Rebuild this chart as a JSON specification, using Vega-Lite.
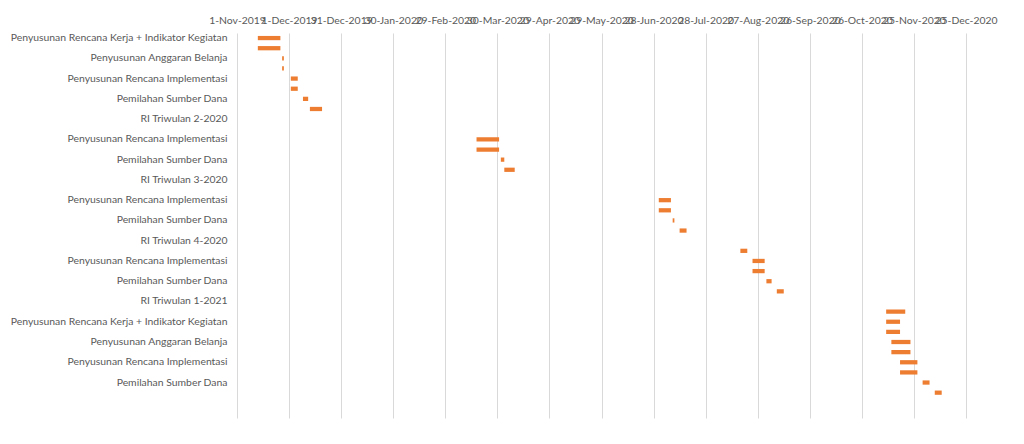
{
  "$schema": "https://vega.github.io/schema/vega-lite/v6.json",
  "autosize": {"type": "none"},
  "width": 729,
  "height": 385,
  "padding": {"left": 237, "top": 33, "right": 58, "bottom": 26},
  "background": "white",
  "config": {
    "view": {"stroke": null},
    "font": "Lato",
    "axis": {"labelFont": "Lato", "labelFontSize": 10.4, "labelColor": "#595959"}
  },
  "data": {
    "values": [
      {"key": "00 Penyusunan Rencana Kerja + Indikator Kegiatan", "start": "2019-11-13", "end": "2019-11-26"},
      {"key": "01 Penyusunan Rencana Kerja + Indikator Kegiatan", "start": "2019-11-13", "end": "2019-11-26"},
      {"key": "02 Penyusunan Anggaran Belanja", "start": "2019-11-27", "end": "2019-11-28"},
      {"key": "03 Penyusunan Anggaran Belanja", "start": "2019-11-27", "end": "2019-11-28"},
      {"key": "04 Penyusunan Rencana Implementasi", "start": "2019-12-02", "end": "2019-12-06"},
      {"key": "05 Penyusunan Rencana Implementasi", "start": "2019-12-02", "end": "2019-12-06"},
      {"key": "06 Pemilahan Sumber Dana", "start": "2019-12-09", "end": "2019-12-12"},
      {"key": "07 Pemilahan Sumber Dana", "start": "2019-12-13", "end": "2019-12-20"},
      {"key": "08 RI Triwulan 2-2020", "start": null, "end": null},
      {"key": "09 RI Triwulan 2-2020", "start": null, "end": null},
      {"key": "10 Penyusunan Rencana Implementasi", "start": "2020-03-18", "end": "2020-03-31"},
      {"key": "11 Penyusunan Rencana Implementasi", "start": "2020-03-18", "end": "2020-03-31"},
      {"key": "12 Pemilahan Sumber Dana", "start": "2020-04-01", "end": "2020-04-03"},
      {"key": "13 Pemilahan Sumber Dana", "start": "2020-04-03", "end": "2020-04-09"},
      {"key": "14 RI Triwulan 3-2020", "start": null, "end": null},
      {"key": "15 RI Triwulan 3-2020", "start": null, "end": null},
      {"key": "16 Penyusunan Rencana Implementasi", "start": "2020-07-01", "end": "2020-07-08"},
      {"key": "17 Penyusunan Rencana Implementasi", "start": "2020-07-01", "end": "2020-07-08"},
      {"key": "18 Pemilahan Sumber Dana", "start": "2020-07-09", "end": "2020-07-10"},
      {"key": "19 Pemilahan Sumber Dana", "start": "2020-07-13", "end": "2020-07-17"},
      {"key": "20 RI Triwulan 4-2020", "start": null, "end": null},
      {"key": "21 RI Triwulan 4-2020", "start": "2020-08-17", "end": "2020-08-21"},
      {"key": "22 Penyusunan Rencana Implementasi", "start": "2020-08-24", "end": "2020-08-31"},
      {"key": "23 Penyusunan Rencana Implementasi", "start": "2020-08-24", "end": "2020-08-31"},
      {"key": "24 Pemilahan Sumber Dana", "start": "2020-09-01", "end": "2020-09-04"},
      {"key": "25 Pemilahan Sumber Dana", "start": "2020-09-07", "end": "2020-09-11"},
      {"key": "26 RI Triwulan 1-2021", "start": null, "end": null},
      {"key": "27 RI Triwulan 1-2021", "start": "2020-11-09", "end": "2020-11-20"},
      {"key": "28 Penyusunan Rencana Kerja + Indikator Kegiatan", "start": "2020-11-09", "end": "2020-11-17"},
      {"key": "29 Penyusunan Rencana Kerja + Indikator Kegiatan", "start": "2020-11-09", "end": "2020-11-17"},
      {"key": "30 Penyusunan Anggaran Belanja", "start": "2020-11-12", "end": "2020-11-23"},
      {"key": "31 Penyusunan Anggaran Belanja", "start": "2020-11-12", "end": "2020-11-23"},
      {"key": "32 Penyusunan Rencana Implementasi", "start": "2020-11-17", "end": "2020-11-27"},
      {"key": "33 Penyusunan Rencana Implementasi", "start": "2020-11-17", "end": "2020-11-27"},
      {"key": "34 Pemilahan Sumber Dana", "start": "2020-11-30", "end": "2020-12-04"},
      {"key": "35 Pemilahan Sumber Dana", "start": "2020-12-07", "end": "2020-12-11"},
      {"key": "36 ", "start": null, "end": null},
      {"key": "37 ", "start": null, "end": null}
    ]
  },
  "encoding": {
    "y": {
      "field": "key",
      "type": "ordinal",
      "sort": "ascending",
      "scale": {"paddingInner": 0, "paddingOuter": 0},
      "axis": {
        "title": null,
        "domain": false,
        "ticks": false,
        "grid": false,
        "labelPadding": 10,
        "labelLimit": 400,
        "labelExpr": "toNumber(substring(datum.value,0,2)) % 2 == 0 ? substring(datum.value,3) : ''"
      }
    }
  },
  "layer": [
    {
      "mark": {"type": "text", "opacity": 0},
      "encoding": {"text": {"value": ""}}
    },
    {
      "mark": {"type": "bar", "color": "#ED7D31", "height": {"band": 0.42}},
      "encoding": {
        "x": {
          "field": "start",
          "type": "temporal",
          "scale": {
            "type": "utc",
            "domain": [
              {"year": 2019, "month": 11, "date": 1, "utc": true},
              {"year": 2020, "month": 12, "date": 25, "utc": true}
            ]
          },
          "axis": {
            "orient": "top",
            "title": null,
            "domain": false,
            "ticks": false,
            "grid": true,
            "gridColor": "#d9d9d9",
            "gridWidth": 1,
            "labelPadding": 8,
            "labelOverlap": false,
            "labelFlush": false,
            "labelBound": false,
            "format": "%-d-%b-%Y",
            "values": [
              {"year": 2019, "month": 11, "date": 1, "utc": true},
              {"year": 2019, "month": 12, "date": 1, "utc": true},
              {"year": 2019, "month": 12, "date": 31, "utc": true},
              {"year": 2020, "month": 1, "date": 30, "utc": true},
              {"year": 2020, "month": 2, "date": 29, "utc": true},
              {"year": 2020, "month": 3, "date": 30, "utc": true},
              {"year": 2020, "month": 4, "date": 29, "utc": true},
              {"year": 2020, "month": 5, "date": 29, "utc": true},
              {"year": 2020, "month": 6, "date": 28, "utc": true},
              {"year": 2020, "month": 7, "date": 28, "utc": true},
              {"year": 2020, "month": 8, "date": 27, "utc": true},
              {"year": 2020, "month": 9, "date": 26, "utc": true},
              {"year": 2020, "month": 10, "date": 26, "utc": true},
              {"year": 2020, "month": 11, "date": 25, "utc": true},
              {"year": 2020, "month": 12, "date": 25, "utc": true}
            ]
          }
        },
        "x2": {"field": "end"}
      }
    }
  ]
}
